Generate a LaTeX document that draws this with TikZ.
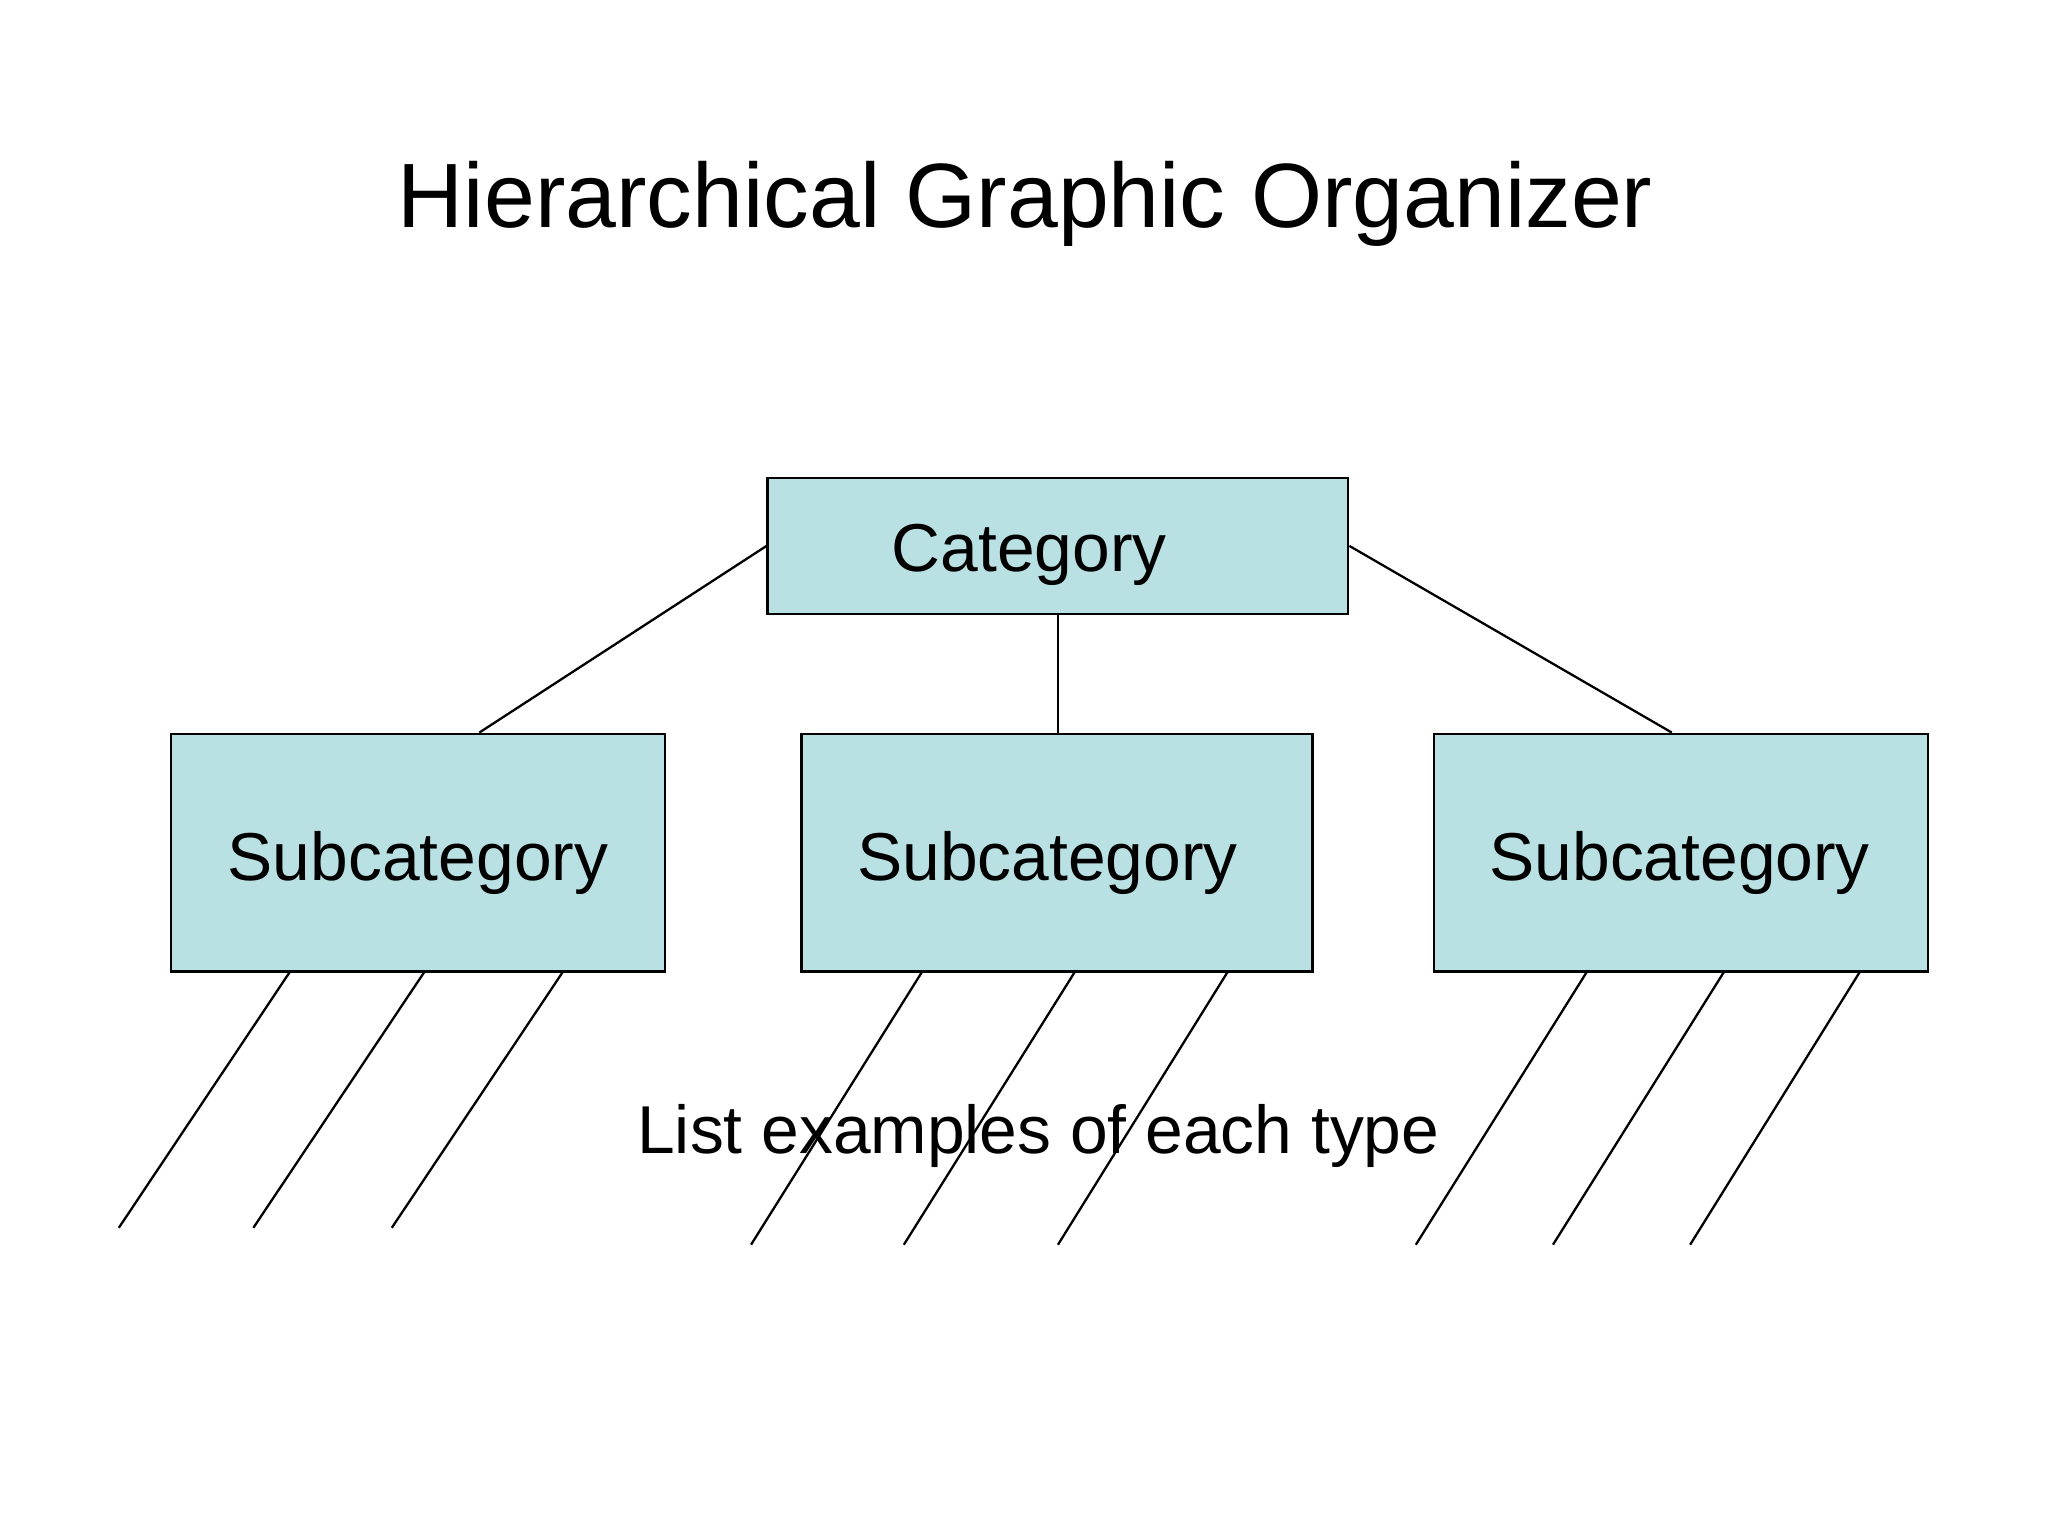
\documentclass[tikz,border=0pt]{standalone}
\usepackage{fontspec}
\setmainfont{Liberation Sans}
\definecolor{boxfill}{HTML}{B9E0E2}
\begin{document}
\begin{tikzpicture}[x=0.01cm,y=-0.01cm,
  box/.style={draw=black,fill=boxfill,line width=0.6pt,inner sep=0pt},
  conn/.style={draw=black,line width=0.5pt},
  lbl/.style={font=\fontsize{14.75pt}{17pt}\selectfont}]
\useasboundingbox (0,0) rectangle (1568,1176);
\node[font=\fontsize{19.9pt}{22pt}\selectfont] (title) at (785,156) {Hierarchical Graphic Organizer};
\node[box,minimum width=4.44cm,minimum height=1.04cm] (cat) at (810,418) {};
\node[lbl] (catt) at (788,425) {Category};
\node[box,minimum width=3.78cm,minimum height=1.82cm] (s1) at (320,653) {};
\node[box,minimum width=3.91cm,minimum height=1.82cm] (s2) at (809.5,653) {};
\node[box,minimum width=3.78cm,minimum height=1.82cm] (s3) at (1287,653) {};
\node[lbl] (t1) at (320,661) {Subcategory};
\node[lbl] (t2) at (802,661) {Subcategory};
\node[lbl] (t3) at (1286,661) {Subcategory};
\draw[conn] (cat.west) -- (s1.north -| 367,0);
\draw[conn] (cat.south) -- (s2.north -| cat.south);
\draw[conn] (cat.east) -- (s3.north -| 1280,0);
\node[lbl] (list) at (795,870) {List examples of each type};
\foreach \a/\b/\e in {222/91/940,325/194/940,431/300/940}
  {\coordinate (u) at (\a,744); \coordinate (v) at (\b,\e); \draw[conn] (u) -- (v);}
\foreach \a/\b/\e in {706/575/953,823/692/953,940/810/953,1215/1084/953,1320/1189/953,1424/1294/953}
  {\coordinate (u) at (\a,744); \coordinate (v) at (\b,\e); \draw[conn] (u) -- (v);}
\end{tikzpicture}
\end{document}
